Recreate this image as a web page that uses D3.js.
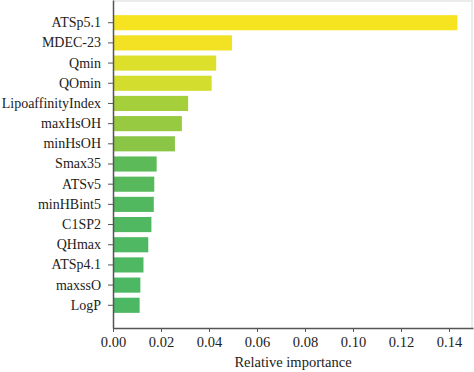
<!DOCTYPE html>
<html lang="en">
<head>
    <meta charset="UTF-8"/>
    <title>Relative importance</title>
    <script src="https://d3js.org/d3.v7.min.js"></script>
    <style>
        body { margin: 0; background: white; }
        .axis text { font-family: "Liberation Serif", "DejaVu Serif", serif; fill: #222; }
        .axis path, .axis line { stroke: #555; }
    </style>
</head>
<body>
<div id="chart"></div>
<script>
    const features = ["ATSp5.1", "MDEC-23", "Qmin", "QOmin", "LipoaffinityIndex", "maxHsOH", "minHsOH",
        "Smax35", "ATSv5", "minHBint5", "C1SP2", "QHmax", "ATSp4.1", "maxssO", "LogP"];
    const importance = [0.1435, 0.0496, 0.0430, 0.0411, 0.0313, 0.0287, 0.0258,
        0.0182, 0.0172, 0.0170, 0.0160, 0.0147, 0.0127, 0.0114, 0.0111];
    const xTicks = [0, 0.02, 0.04, 0.06, 0.08, 0.10, 0.12, 0.14];

    const palette = ["#f6e421", "#f3e123", "#dce02b", "#d3dd2e", "#a6cf3c", "#98ca41", "#8bc546",
        "#5dba58", "#57b95c", "#52b85f", "#50b861", "#4fb862", "#4eb863", "#4db863", "#4db863"];

    const width = 474;
    const height = 372;
    const margin = {top: 0, right: 1, bottom: 44, left: 113};
    const gW = width - margin.left - margin.right;
    const gH = height - margin.top - margin.bottom;

    const svg = d3.select("#chart")
        .append("svg")
        .attr("width", width)
        .attr("height", height);

    const g = svg.append("g").attr("transform", `translate(${margin.left}, ${margin.top})`);

    const xScale = d3.scaleLinear().domain([0, 0.15]).range([0, gW]);
    const yScale = d3.scaleBand().domain(features).range([0, gH]).paddingInner(0.25).paddingOuter(0.75);

    // light frame on top and right
    g.append("line").attr("x1", 0).attr("x2", gW).attr("y1", 1).attr("y2", 1)
        .attr("stroke", "#e6e6e6").attr("stroke-width", 1.5);
    g.append("line").attr("x1", gW - 1).attr("x2", gW - 1).attr("y1", 0).attr("y2", gH)
        .attr("stroke", "#e6e6e6").attr("stroke-width", 1.5);

    g.selectAll(".bar")
        .data(features)
        .join("rect")
        .attr("class", "bar")
        .attr("x", 0)
        .attr("y", d => yScale(d))
        .attr("width", (d, i) => xScale(importance[i]))
        .attr("height", yScale.bandwidth())
        .attr("fill", (d, i) => palette[i]);

    // X axis
    const xAxis = g.append("g")
        .attr("class", "axis")
        .attr("transform", `translate(0, ${gH})`)
        .call(d3.axisBottom(xScale).tickValues(xTicks).tickFormat(d3.format(".2f")).tickSize(4).tickSizeOuter(0));
    xAxis.selectAll("text").style("font-size", "14.5px").attr("dy", "0.8em");
    xAxis.select(".domain").attr("stroke-width", 1.5);

    // Y axis
    const yAxis = g.append("g")
        .attr("class", "axis")
        .call(d3.axisLeft(yScale).tickSize(5).tickPadding(7).tickSizeOuter(0));
    yAxis.selectAll("text").style("font-size", "14px");
    yAxis.select(".domain").attr("stroke-width", 1.5);

    svg.append("text")
        .attr("x", margin.left + gW / 2)
        .attr("y", height - 5)
        .style("font-family", "'Liberation Serif', 'DejaVu Serif', serif")
        .style("font-size", "14.5px")
        .style("fill", "#222")
        .style("text-anchor", "middle")
        .text("Relative importance");
</script>
</body>
</html>
